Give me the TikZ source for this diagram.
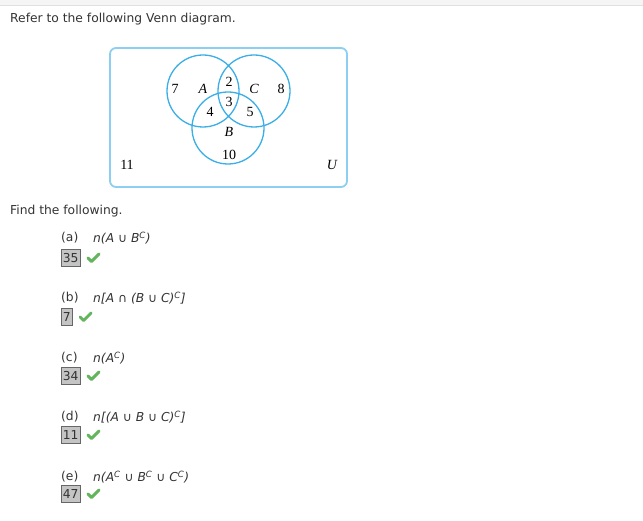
\documentclass[tikz,border=0pt]{standalone}
\usepackage{fontspec}
\setmainfont{DejaVu Sans}
\newfontfamily\vennfont{Liberation Serif}
\usetikzlibrary{positioning,fit,calc}

\definecolor{vennblue}{HTML}{3AAEE6}
\definecolor{frameblue}{HTML}{8CCFF2}
\definecolor{ansgray}{HTML}{C4C4C4}
\definecolor{okgreen}{HTML}{62B55A}
\definecolor{txtgray}{HTML}{333333}
\definecolor{bandgray}{HTML}{F5F5F5}
\definecolor{rulegray}{HTML}{E0E0E0}

\newcommand{\sC}{\textsuperscript{C}}

\tikzset{
    venncirc/.style={
        circle,
        draw=vennblue,
        line width=1.3pt,
        minimum size=72pt,
        inner sep=0pt
    },
    vennlbl/.style={
        font=\vennfont\fontsize{14}{14}\selectfont,
        inner sep=0pt
    },
    plain/.style={
        font=\fontsize{12.3}{14}\selectfont,
        text=txtgray,
        inner sep=0pt,
        anchor=west
    },
    answer/.style={
        draw=black!60,
        fill=ansgray,
        line width=0.8pt,
        minimum height=17pt,
        inner xsep=1.5pt,
        inner ysep=0pt,
        anchor=west,
        font=\fontsize{12.3}{14}\selectfont,
        text=txtgray
    },
    tick/.pic={
        \draw[okgreen, line width=3pt, line cap=round, line join=round]
            (-5.5,0) -- (-2,3.5) -- (5.5,-4);
    }
}

\begin{document}
\begin{tikzpicture}[x=1pt, y=-1pt,
            universe/.style={
                draw=frameblue,
                line width=1.8pt,
                rounded corners=6pt
            }]
    \useasboundingbox (0,0) rectangle (643,521);
    \fill[bandgray] (0,0) rectangle (643,5);
    \draw[rulegray, line width=1pt] (0,5.5) -- (643,5.5);

    \node[plain] (intro) at (10,19) {Refer to the following Venn diagram.};

    % the diagram
    \draw[universe] (110,48) rectangle (347,187);
    \node[venncirc] (A) at (203,91) {};
    \node[venncirc] (C) at (254,91) {};
    \node[venncirc] (B) at (228,128) {};

    \node[vennlbl] (n7)  at (175,89)  {7};
    \node[vennlbl] (lA)  at (203,89)  {\itshape A};
    \node[vennlbl] (n2)  at (229,82)  {2};
    \node[vennlbl] (lC)  at (254,89)  {\itshape C};
    \node[vennlbl] (n8)  at (281,89)  {8};
    \node[vennlbl] (n3)  at (229,102) {3};
    \node[vennlbl] (n4)  at (210,112) {4};
    \node[vennlbl] (n5)  at (250,112) {5};
    \node[vennlbl] (lB)  at (229,132) {\itshape B};
    \node[vennlbl] (n10) at (229,155) {10};
    \node[vennlbl] (n11) at (127,165) {11};
    \node[vennlbl] (lU)  at (332,165) {\itshape U};

    \node[plain] (find) at (10,211) {Find the following.};

    % (a)
    \node[plain] (qa) at (61,238) {(a)};
    \node[plain] (ea) at (93,238) {\itshape n(A ∪ B\sC)};
    \node[answer] (ra) at (61,258) {35};
    \pic at ($(ra.east)+(13,0)$) {tick};

    % (b)
    \node[plain] (qb) at (61,298) {(b)};
    \node[plain] (eb) at (93,298) {\itshape n[A ∩ (B ∪ C)\sC]};
    \node[answer] (rb) at (61,317) {7};
    \pic at ($(rb.east)+(13,0)$) {tick};

    % (c)
    \node[plain] (qc) at (61,358) {(c)};
    \node[plain] (ec) at (93,358) {\itshape n(A\sC)};
    \node[answer] (rc) at (61,376) {34};
    \pic at ($(rc.east)+(13,0)$) {tick};

    % (d)
    \node[plain] (qd) at (61,417) {(d)};
    \node[plain] (ed) at (93,417) {\itshape n[(A ∪ B ∪ C)\sC]};
    \node[answer] (rd) at (61,435) {11};
    \pic at ($(rd.east)+(13,0)$) {tick};

    % (e)
    \node[plain] (qe) at (61,477) {(e)};
    \node[plain] (ee) at (93,477) {\itshape n(A\sC{} ∪ B\sC{} ∪ C\sC)};
    \node[answer] (re) at (61,494) {47};
    \pic at ($(re.east)+(13,0)$) {tick};
\end{tikzpicture}
\end{document}
